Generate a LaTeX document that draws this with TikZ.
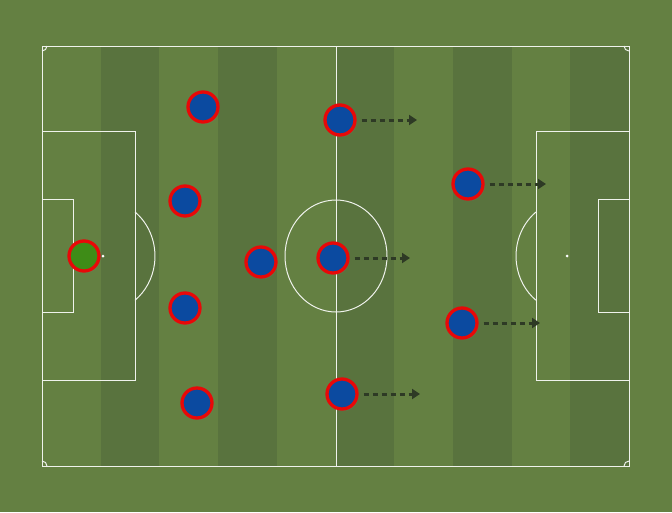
\documentclass[tikz,border=0pt]{standalone}
\usetikzlibrary{arrows.meta,shadows}
\definecolor{grass}{RGB}{100,128,66}
\definecolor{grassdark}{RGB}{89,115,62}
\definecolor{kitblue}{RGB}{11,74,160}
\definecolor{kitred}{RGB}{232,8,8}
\definecolor{keeper}{RGB}{62,140,23}
\definecolor{runline}{RGB}{46,58,37}
\tikzset{
  player/.style={circle,draw=kitred,line width=3.3pt,fill=kitblue,minimum size=30pt,inner sep=0pt,
    circular drop shadow={shadow xshift=0.6pt,shadow yshift=-1pt,opacity=0.25}},
  goalie/.style={player,fill=keeper},
  pitchline/.style={draw=white!90!grass,line width=1pt},
  run/.style={draw=runline,line width=3pt,dash pattern=on 5pt off 4pt,shorten <=5pt,
    -{Triangle[length=8pt,width=10pt]}}
}
\begin{document}
\begin{tikzpicture}[x=1pt,y=-1pt]
    \useasboundingbox (0,0) rectangle (672,512);
    \fill[grass] (0,0) rectangle (672,512);

    \foreach \i in {1,3,5,7,9}
        \fill[grassdark] ({42+\i*58.7},46) rectangle ({42+(\i+1)*58.7},466);

    \draw[pitchline] (42,46) rectangle (629,466);
    \draw[pitchline] (336,46) -- (336,466);
    \draw[pitchline] (336,256) ellipse [x radius=51,y radius=56];

    \draw[pitchline] (42,131) rectangle (135,380);
    \draw[pitchline] (42,199) rectangle (73,312);
    \fill[white] (103,256) circle (1.5);
    \draw[pitchline] (135,212) arc[start angle=-52,end angle=52,x radius=52,y radius=56];

    \draw[pitchline] (629,131) rectangle (536,380);
    \draw[pitchline] (629,199) rectangle (598,312);
    \fill[white] (567,256) circle (1.5);
    \draw[pitchline] (536,212) arc[start angle=232,end angle=128,x radius=52,y radius=56];

    \draw[pitchline] (42,51) arc[start angle=90,end angle=0,radius=5];
    \draw[pitchline] (624,46) arc[start angle=180,end angle=90,radius=5];
    \draw[pitchline] (47,466) arc[start angle=0,end angle=-90,radius=5];
    \draw[pitchline] (629,461) arc[start angle=-90,end angle=-180,radius=5];

    \node[goalie] (gk) at (84,256) {};
    \node[player] (lb) at (203,107) {};
    \node[player] (lcb) at (185,201) {};
    \node[player] (rcb) at (185,308) {};
    \node[player] (rb) at (197,403) {};
    \node[player] (dm) at (261,262) {};
    \node[player] (lm) at (340,120) {};
    \node[player] (cm) at (333,258) {};
    \node[player] (rm) at (342,394) {};
    \node[player] (lf) at (468,184) {};
    \node[player] (rf) at (462,323) {};

    \coordinate (lmrun) at (417,120);
    \coordinate (cmrun) at (410,258);
    \coordinate (rmrun) at (420,394);
    \coordinate (lfrun) at (546,184);
    \coordinate (rfrun) at (540,323);

    \draw[run] (lm.east) -- (lmrun);
    \draw[run] (cm.east) -- (cmrun);
    \draw[run] (rm.east) -- (rmrun);
    \draw[run] (lf.east) -- (lfrun);
    \draw[run] (rf.east) -- (rfrun);

\end{tikzpicture}
\end{document}
